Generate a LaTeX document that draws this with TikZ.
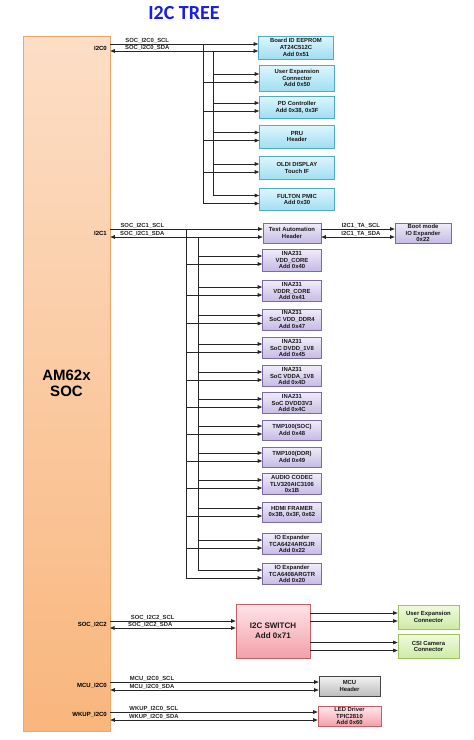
\documentclass[tikz,border=0pt]{standalone}
\usepackage{fontspec}
\setmainfont{Liberation Sans}
\newfontfamily\titlefont{Carlito}
\usepackage{tikz}
\usetikzlibrary{arrows.meta}

\definecolor{titleblue}{RGB}{25,30,225}
\definecolor{socedge}{RGB}{240,165,105}
\definecolor{soctop}{RGB}{252,222,198}
\definecolor{socbot}{RGB}{249,182,125}
\definecolor{cyanedge}{RGB}{80,170,200}
\definecolor{cyantop}{RGB}{222,246,253}
\definecolor{cyanbot}{RGB}{160,222,242}
\definecolor{purpedge}{RGB}{125,105,165}
\definecolor{purptop}{RGB}{240,236,250}
\definecolor{purpbot}{RGB}{198,186,228}
\definecolor{rededge}{RGB}{200,95,100}
\definecolor{redtop}{RGB}{255,228,232}
\definecolor{redbot}{RGB}{243,160,170}
\definecolor{greenedge}{RGB}{160,195,95}
\definecolor{greentop}{RGB}{240,250,222}
\definecolor{greenbot}{RGB}{205,235,165}
\definecolor{greyedge}{RGB}{70,70,70}
\definecolor{greytop}{RGB}{242,242,242}
\definecolor{greybot}{RGB}{190,190,190}

\begin{document}
\begin{tikzpicture}[
    x=1pt, y=-1pt,
    font=\fontsize{5.9}{6.7}\selectfont\bfseries,
    devbox/.style={rectangle, align=center, inner sep=0.5pt, line width=0.6pt, text=black!90},
    cyanbox/.style={devbox, draw=cyanedge, top color=cyantop, bottom color=cyanbot, minimum width=75pt},
    purpbox/.style={devbox, draw=purpedge, top color=purptop, bottom color=purpbot, minimum width=59pt},
    greenbox/.style={devbox, draw=greenedge, top color=greentop, bottom color=greenbot, minimum width=61pt, minimum height=24pt},
    redbox/.style={devbox, draw=rededge, top color=redtop, bottom color=redbot},
    greybox/.style={devbox, draw=greyedge, top color=greytop, bottom color=greybot, minimum width=61pt, minimum height=20pt},
    soc/.style={rectangle, draw=socedge, line width=0.6pt, top color=soctop, bottom color=socbot, minimum width=87pt, minimum height=695pt, align=center, font=\fontsize{15}{16.5}\selectfont\bfseries},
    port/.style={anchor=east, inner sep=0pt, font=\fontsize{6}{7}\selectfont\bfseries},
    lbl/.style={above, inner sep=0.6pt, font=\fontsize{5.9}{6}\selectfont\bfseries},
    sig/.style={-{Triangle[length=4.5pt,width=3.6pt]}, line width=0.7pt, black!85},
    sda/.style={{Triangle[length=4.5pt,width=3.6pt]}-{Triangle[length=4.5pt,width=3.6pt]}, line width=0.7pt, black!85},
    bus/.style={line width=0.7pt, black!85},
    toprow/.style={transform canvas={yshift=#1}}, toprow/.default=4pt,
    botrow/.style={transform canvas={yshift=-#1}}, botrow/.default=4pt
]
    \useasboundingbox (0,0) rectangle (474,740);

    % Title
    \node[font=\titlefont\fontsize{20}{22}\selectfont\bfseries, text=titleblue] (title) at (184,13) {I2C TREE};

    % SoC
    \node[soc] (soc) at (66.5,383.5) {AM62x\\SOC};
    \node[port] (p0) at (107,48) {I2C0};
    \node[port] (p1) at (107,233) {I2C1};
    \node[port] (p2) at (107,624.5) {SOC\_I2C2};
    \node[port] (p3) at (107,686) {MCU\_I2C0};
    \node[port] (p4) at (107,715) {WKUP\_I2C0};

    % I2C0 devices
    \node[cyanbox, minimum height=23pt] (eeprom) at (296,47.5) {Board ID EEPROM\\AT24C512C\\Add 0x51};
    \node[cyanbox, minimum height=26pt] (uexp) at (297,78) {User Expansion\\Connector\\Add 0x50};
    \node[cyanbox, minimum height=22pt] (pdc) at (297,107) {PD Controller\\Add 0x38, 0x3F};
    \node[cyanbox, minimum height=23pt] (pru) at (297,136.5) {PRU\\Header};
    \node[cyanbox, minimum height=23pt] (oldi) at (297,168) {OLDI DISPLAY\\Touch IF};
    \node[cyanbox, minimum height=22pt] (pmic) at (297,199.5) {FULTON PMIC\\Add 0x30};

    % I2C0 bus
    \draw[sig, toprow=3.5pt] (soc.east |- eeprom.west) -- node[lbl, pos=.25] {SOC\_I2C0\_SCL} (eeprom.west);
    \draw[sda, botrow=3.5pt] (soc.east |- eeprom.west) -- node[lbl, pos=.25] {SOC\_I2C0\_SDA} (eeprom.west);
    \coordinate (b0scl) at (203,44);
    \coordinate (b0sda) at (213,51);
    \draw[bus] (b0scl) -- (b0scl |- 0,203.5);
    \draw[bus] (b0sda) -- (b0sda |- 0,195.5);
    \draw[sig, toprow] (b0sda |- uexp.west) -- (uexp.west);
    \draw[sig, botrow] (b0scl |- uexp.west) -- (uexp.west);
    \draw[sig, toprow] (b0sda |- pdc.west) -- (pdc.west);
    \draw[sig, botrow] (b0scl |- pdc.west) -- (pdc.west);
    \draw[sig, toprow] (b0sda |- pru.west) -- (pru.west);
    \draw[sig, botrow] (b0scl |- pru.west) -- (pru.west);
    \draw[sig, toprow] (b0sda |- oldi.west) -- (oldi.west);
    \draw[sig, botrow] (b0scl |- oldi.west) -- (oldi.west);
    \draw[sig, toprow] (b0sda |- pmic.west) -- (pmic.west);
    \draw[sig, botrow] (b0scl |- pmic.west) -- (pmic.west);

    % I2C1 devices
    \node[purpbox, minimum width=58pt, minimum height=20pt] (tah) at (292,233) {Test Automation\\Header};
    \node[purpbox, minimum width=56pt, minimum height=20pt] (boot) at (423,233) {Boot mode\\IO Expander\\0x22};
    \node[purpbox, minimum height=22pt] (ina1) at (292,260) {INA231\\VDD\_CORE\\Add 0x40};
    \node[purpbox, minimum height=21pt] (ina2) at (292,291) {INA231\\VDDR\_CORE\\Add 0x41};
    \node[purpbox, minimum height=21pt] (ina3) at (292,319.5) {INA231\\SoC VDD\_DDR4\\Add 0x47};
    \node[purpbox, minimum height=21pt] (ina4) at (292,348) {INA231\\SoC DVDD\_1V8\\Add 0x45};
    \node[purpbox, minimum height=21pt] (ina5) at (292,376) {INA231\\SoC VDDA\_1V8\\Add 0x4D};
    \node[purpbox, minimum height=21pt] (ina6) at (292,403) {INA231\\SoC DVDD3V3\\Add 0x4C};
    \node[purpbox, minimum height=20pt] (tmp1) at (292,430) {TMP100(SOC)\\Add 0x48};
    \node[purpbox, minimum height=20pt] (tmp2) at (292,457) {TMP100(DDR)\\Add 0x49};
    \node[purpbox, minimum height=21pt] (codec) at (292,484) {AUDIO CODEC\\TLV320AIC3106\\0x1B};
    \node[purpbox, minimum height=20pt] (hdmi) at (292,512) {HDMI FRAMER\\0x3B, 0x3F, 0x62};
    \node[purpbox, minimum height=21pt] (iox1) at (292,544) {IO Expander\\TCA6424ARGJR\\Add 0x22};
    \node[purpbox, minimum height=21pt] (iox2) at (292,574) {IO Expander\\TCA6408ARGTR\\Add 0x20};

    % I2C1 bus
    \draw[sig, toprow] (soc.east |- tah.west) -- node[lbl, pos=.21] {SOC\_I2C1\_SCL} (tah.west);
    \draw[sda, botrow] (soc.east |- tah.west) -- node[lbl, pos=.21] {SOC\_I2C1\_SDA} (tah.west);
    \draw[sig, toprow] (tah.east) -- node[lbl, pos=.54] {I2C1\_TA\_SCL} (boot.west);
    \draw[sda, botrow] (tah.east) -- node[lbl, pos=.54] {I2C1\_TA\_SDA} (boot.west);
    \coordinate (b1scl) at (186,229);
    \coordinate (b1sda) at (198,237);
    \draw[bus] (b1scl) -- (b1scl |- 0,578);
    \draw[bus] (b1sda) -- (b1sda |- 0,570);
    \draw[sig, toprow] (b1sda |- ina1.west) -- (ina1.west);
    \draw[sig, botrow] (b1scl |- ina1.west) -- (ina1.west);
    \draw[sig, toprow] (b1sda |- ina2.west) -- (ina2.west);
    \draw[sig, botrow] (b1scl |- ina2.west) -- (ina2.west);
    \draw[sig, toprow] (b1sda |- ina3.west) -- (ina3.west);
    \draw[sig, botrow] (b1scl |- ina3.west) -- (ina3.west);
    \draw[sig, toprow] (b1sda |- ina4.west) -- (ina4.west);
    \draw[sig, botrow] (b1scl |- ina4.west) -- (ina4.west);
    \draw[sig, toprow] (b1sda |- ina5.west) -- (ina5.west);
    \draw[sig, botrow] (b1scl |- ina5.west) -- (ina5.west);
    \draw[sig, toprow] (b1sda |- ina6.west) -- (ina6.west);
    \draw[sig, botrow] (b1scl |- ina6.west) -- (ina6.west);
    \draw[sig, toprow] (b1sda |- tmp1.west) -- (tmp1.west);
    \draw[sig, botrow] (b1scl |- tmp1.west) -- (tmp1.west);
    \draw[sig, toprow] (b1sda |- tmp2.west) -- (tmp2.west);
    \draw[sig, botrow] (b1scl |- tmp2.west) -- (tmp2.west);
    \draw[sig, toprow] (b1sda |- codec.west) -- (codec.west);
    \draw[sig, botrow] (b1scl |- codec.west) -- (codec.west);
    \draw[sig, toprow] (b1sda |- hdmi.west) -- (hdmi.west);
    \draw[sig, botrow] (b1scl |- hdmi.west) -- (hdmi.west);
    \draw[sig, toprow] (b1sda |- iox1.west) -- (iox1.west);
    \draw[sig, botrow] (b1scl |- iox1.west) -- (iox1.west);
    \draw[sig, toprow] (b1sda |- iox2.west) -- (iox2.west);
    \draw[sig, botrow] (b1scl |- iox2.west) -- (iox2.west);

    % SOC_I2C2 and switch
    \node[redbox, minimum width=74pt, minimum height=54pt, font=\fontsize{8}{10}\selectfont\bfseries] (sw) at (273,631) {I2C SWITCH\\Add 0x71};
    \node[greenbox] (uexp2) at (428.5,617) {User Expansion\\Connector};
    \node[greenbox] (csi) at (428.5,646.5) {CSI Camera\\Connector};
    \coordinate (i2c2) at (110,624.5);
    \draw[sig, toprow=3.5pt] (i2c2) -- node[lbl, pos=.34] {SOC\_I2C2\_SCL} (i2c2 -| sw.west);
    \draw[sda, botrow=3.5pt] (i2c2) -- node[lbl, pos=.32] {SOC\_I2C2\_SDA} (i2c2 -| sw.west);
    \draw[sig, toprow] (sw.east |- uexp2.west) -- (uexp2.west);
    \draw[sig, botrow] (sw.east |- uexp2.west) -- (uexp2.west);
    \draw[sig, toprow] (sw.east |- csi.west) -- (csi.west);
    \draw[sig, botrow] (sw.east |- csi.west) -- (csi.west);

    % MCU and WKUP
    \node[greybox] (mcuh) at (349.5,686) {MCU\\Header};
    \node[redbox, minimum width=63pt, minimum height=20pt, top color=redtop!80!white] (led) at (349.5,716) {LED Driver\\TPIC2810\\Add 0x60};
    \draw[sig, toprow] (soc.east |- mcuh.west) -- node[lbl, pos=.2] {MCU\_I2C0\_SCL} (mcuh.west);
    \draw[sda, botrow] (soc.east |- mcuh.west) -- node[lbl, pos=.2] {MCU\_I2C0\_SDA} (mcuh.west);
    \draw[sig, toprow] (soc.east |- led.west) -- node[lbl, pos=.21] {WKUP\_I2C0\_SCL} (led.west);
    \draw[sda, botrow] (soc.east |- led.west) -- node[lbl, pos=.21] {WKUP\_I2C0\_SDA} (led.west);
\end{tikzpicture}
\end{document}
